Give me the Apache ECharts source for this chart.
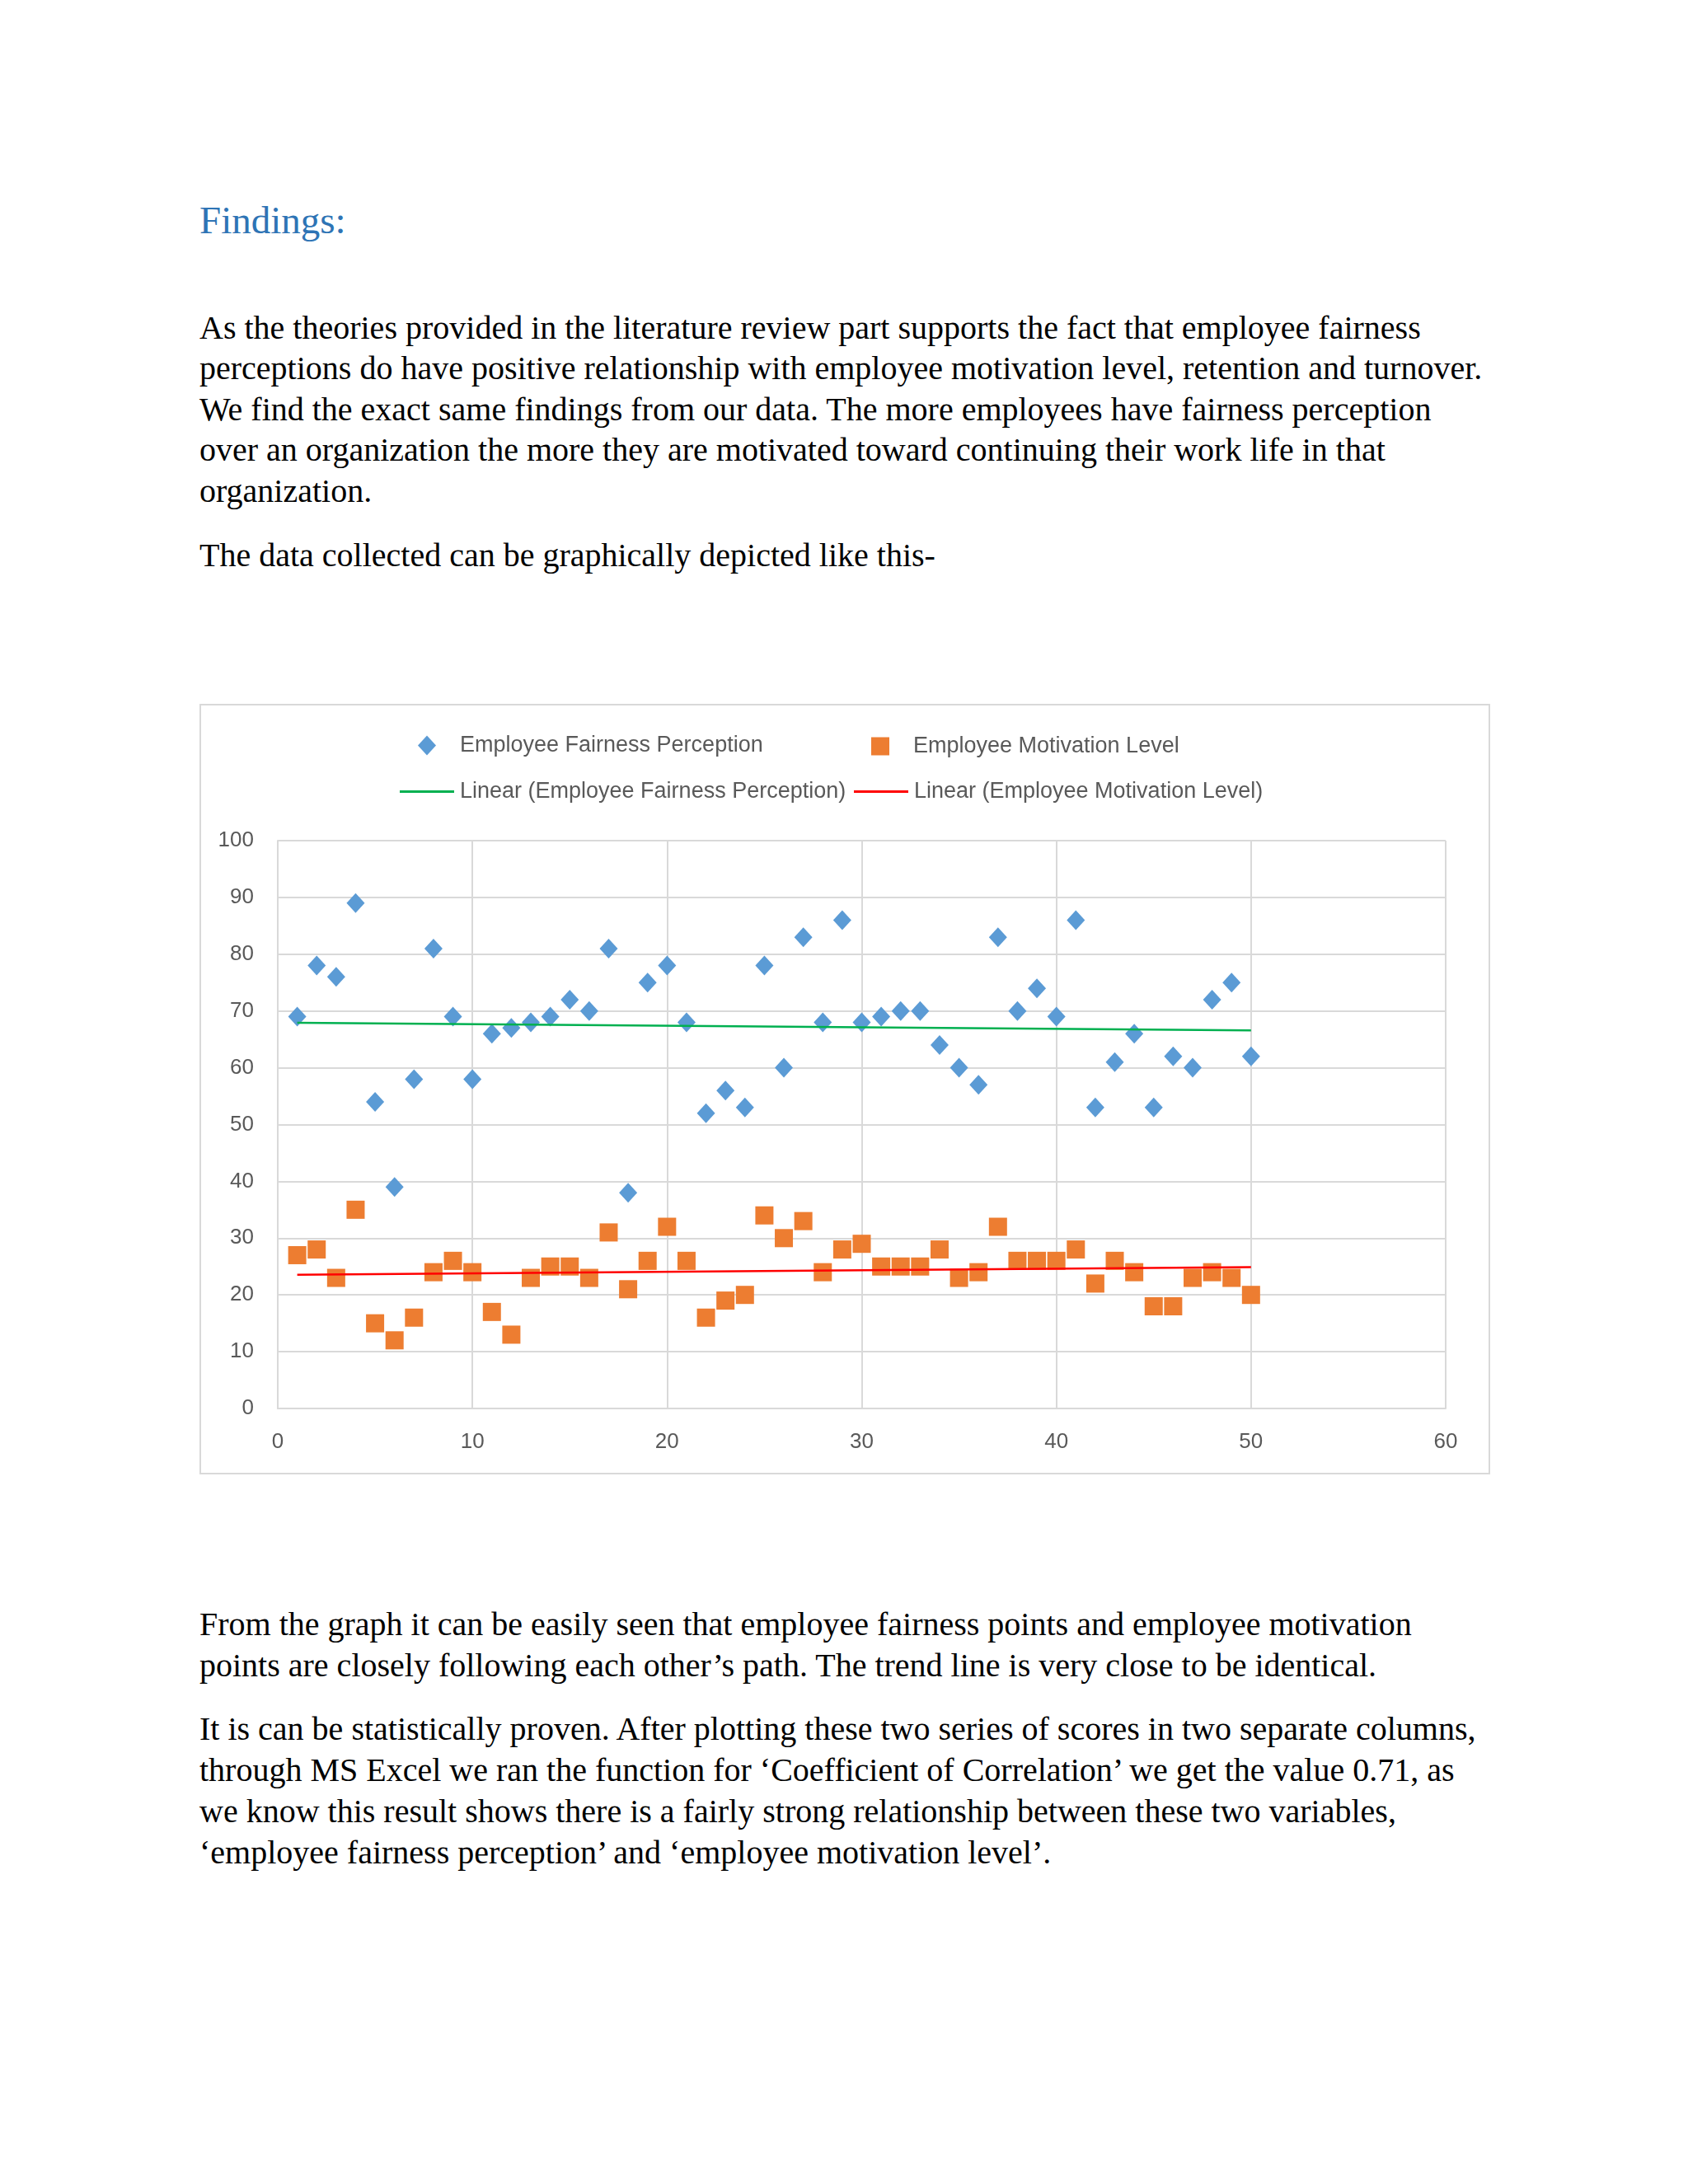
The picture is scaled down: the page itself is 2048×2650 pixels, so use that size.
<!DOCTYPE html>
<html>
<head>
<meta charset="utf-8">
<script src="https://cdn.jsdelivr.net/npm/echarts@6/dist/echarts.min.js"></script>
<style>
  html, body { margin:0; padding:0; background:#ffffff; }
  #page { position:relative; width:2048px; height:2650px; background:#ffffff; overflow:hidden; }
  .ln { position:absolute; left:242px; font-family:"Liberation Serif","Times New Roman",serif; font-size:40px; line-height:40px; color:#000; white-space:nowrap; }
  .hd { position:absolute; left:242px; font-family:"Liberation Serif","Times New Roman",serif; font-size:47px; line-height:47px; color:#2E74B5; white-space:nowrap; }
  #frame { position:absolute; left:242px; top:854px; width:1566px; height:935px; box-sizing:border-box; border:2px solid #D9D9D9; }
  #chart { position:absolute; left:244px; top:856px; width:1562px; height:931px; }
</style>
</head>
<body>
<div id="page">
  <div class="hd" style="top:244px">Findings:</div>
  <div class="ln" style="top:378px">As the theories provided in the literature review part supports the fact that employee fairness</div>
  <div class="ln" style="top:427px">perceptions do have positive relationship with employee motivation level, retention and turnover.</div>
  <div class="ln" style="top:477px">We find the exact same findings from our data. The more employees have fairness perception</div>
  <div class="ln" style="top:526px">over an organization the more they are motivated toward continuing their work life in that</div>
  <div class="ln" style="top:576px">organization.</div>
  <div class="ln" style="top:654px">The data collected can be graphically depicted like this-</div>
  <div id="frame"></div>
  <div id="chart"></div>
  <div class="ln" style="top:1951px">From the graph it can be easily seen that employee fairness points and employee motivation</div>
  <div class="ln" style="top:2001px">points are closely following each other’s path. The trend line is very close to be identical.</div>
  <div class="ln" style="top:2078px">It is can be statistically proven. After plotting these two series of scores in two separate columns,</div>
  <div class="ln" style="top:2128px">through MS Excel we ran the function for ‘Coefficient of Correlation’ we get the value 0.71, as</div>
  <div class="ln" style="top:2178px">we know this result shows there is a fairly strong relationship between these two variables,</div>
  <div class="ln" style="top:2228px">‘employee fairness perception’ and ‘employee motivation level’.</div>
</div>
<script>
// ---- data ----
const employeeIds = [1,2,3,4,5,6,7,8,9,10,11,12,13,14,15,16,17,18,19,20,21,22,23,24,25,26,27,28,29,30,31,32,33,34,35,36,37,38,39,40,41,42,43,44,45,46,47,48,49,50];
const fairnessPerception = [69,78,76,89,54,39,58,81,69,58, 66,67,68,69,72,70,81,38,75,78, 68,52,56,53,78,60,83,68,86,68, 69,70,70,64,60,57,83,70,74,69, 86,53,61,66,53,62,60,72,75,62];
const motivationLevel = [27,28,23,35,15,12,16,24,26,24, 17,13,23,25,25,23,31,21,26,32, 26,16,19,20,34,30,33,24,28,29, 25,25,25,28,23,24,32,26,26,26, 28,22,26,24,18,18,23,24,23,20];
const seriesNames = ['Employee Fairness Perception','Employee Motivation Level','Linear (Employee Fairness Perception)','Linear (Employee Motivation Level)'];
const xTicks = [0,10,20,30,40,50,60];
const yTicks = [0,10,20,30,40,50,60,70,80,90,100];

// least-squares trend line (as Excel's "Linear" trendline)
function linearTrend(xs, ys) {
  const n = xs.length;
  let sx=0, sy=0, sxx=0, sxy=0;
  for (let i=0;i<n;i++){ sx+=xs[i]; sy+=ys[i]; sxx+=xs[i]*xs[i]; sxy+=xs[i]*ys[i]; }
  const b = (n*sxy - sx*sy)/(n*sxx - sx*sx);
  const a = (sy - b*sx)/n;
  const x0 = xs[0], x1 = xs[n-1];
  return [[x0, a+b*x0],[x1, a+b*x1]];
}

const pts = (ys) => employeeIds.map((x,i)=>[x, ys[i]]);
const chart = echarts.init(document.getElementById('chart'), null, {renderer:'canvas'});
const axisFont = {fontFamily:'Liberation Sans, Arial, sans-serif', fontSize:26, color:'#595959'};
const legendText = {fontFamily:'Liberation Sans, Arial, sans-serif', fontSize:27, color:'#595959'};
const gridColor = '#D9D9D9';

chart.setOption({
  animation:false,
  backgroundColor:'#ffffff',
  grid:{left:93, right:52, top:164, bottom:78, containLabel:false},
  xAxis:{
    type:'value', min:xTicks[0], max:xTicks[xTicks.length-1], interval:10,
    axisLine:{show:true, lineStyle:{color:gridColor, width:2}},
    axisTick:{show:false},
    splitLine:{show:true, lineStyle:{color:gridColor, width:2}},
    axisLabel:{...axisFont, margin:28}
  },
  yAxis:{
    type:'value', min:yTicks[0], max:yTicks[yTicks.length-1], interval:10,
    axisLine:{show:true, lineStyle:{color:gridColor, width:2}},
    axisTick:{show:false},
    splitLine:{show:true, lineStyle:{color:gridColor, width:2}},
    axisLabel:{...axisFont, margin:29}
  },
  legend:[
    {data:[{name:seriesNames[0], icon:'diamond'}], left:263, top:35, padding:0, itemWidth:22, itemHeight:24, textStyle:{...legendText, padding:[0,0,0,24]}, selectedMode:false},
    {data:[{name:seriesNames[1], icon:'rect'}], left:813, top:36, padding:0, itemWidth:22, itemHeight:22, textStyle:{...legendText, padding:[0,0,0,24]}, selectedMode:false},
    {data:[{name:seriesNames[2], icon:'rect'}], left:241, top:91, padding:0, itemWidth:66, itemHeight:3, textStyle:{...legendText, padding:[0,0,0,2]}, selectedMode:false},
    {data:[{name:seriesNames[3], icon:'rect'}], left:792, top:91, padding:0, itemWidth:66, itemHeight:3, textStyle:{...legendText, padding:[0,0,0,2]}, selectedMode:false}
  ],
  series:[
    {name:seriesNames[0], type:'scatter', symbol:'diamond', symbolSize:[22,24], itemStyle:{color:'#5B9BD5', opacity:1}, data:pts(fairnessPerception), z:3},
    {name:seriesNames[1], type:'scatter', symbol:'rect', symbolSize:22, itemStyle:{color:'#ED7D31', opacity:1}, data:pts(motivationLevel), z:3},
    {name:seriesNames[2], type:'line', symbol:'none', lineStyle:{color:'#00B050', width:2.5}, itemStyle:{color:'#00B050'}, data:linearTrend(employeeIds, fairnessPerception), z:4},
    {name:seriesNames[3], type:'line', symbol:'none', lineStyle:{color:'#FF0000', width:2.5}, itemStyle:{color:'#FF0000'}, data:linearTrend(employeeIds, motivationLevel), z:4}
  ]
});
</script>
</body>
</html>
